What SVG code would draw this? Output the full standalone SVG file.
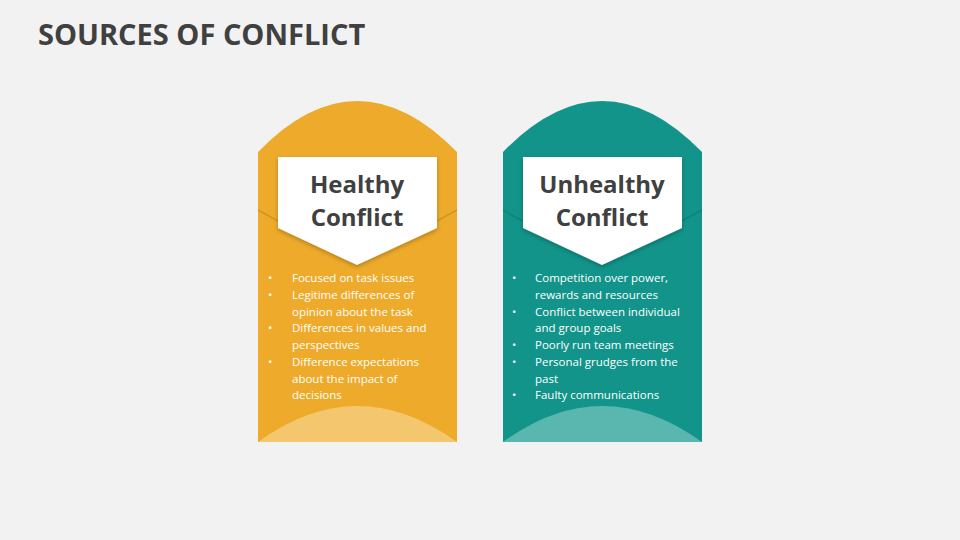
<svg xmlns="http://www.w3.org/2000/svg" width="960" height="540" viewBox="0 0 960 540">
<defs>
<style>
.title{font-family:"Open Sans","Liberation Sans",sans-serif;font-weight:bold;font-size:29px;fill:#404040}
.head{font-family:"Open Sans","Liberation Sans",sans-serif;font-weight:bold;font-size:24px;fill:#404040;text-anchor:middle}
.body{font-family:"Open Sans","Liberation Sans",sans-serif;font-size:11.5px;fill:#fff}
.flap{fill:none;stroke:#000;stroke-opacity:0.12;stroke-width:1.5}
</style>
<filter id="sh" x="-20%" y="-20%" width="140%" height="140%"><feDropShadow dx="0" dy="2" stdDeviation="2" flood-opacity="0.25"/></filter>
</defs>
<rect width="960" height="540" fill="#f2f2f2"/>
<text class="title" x="38" y="45">SOURCES OF CONFLICT</text>
<g id="healthy">
<path d="M258 152 Q357 50 457 152 L457 442 L258 442 Z" fill="#eeaa2a"/>
<path class="flap" d="M258 210 L357 265 L457 210"/>
<path d="M258 442 Q357 370 457 442 Z" fill="#f4c66e"/>
<path d="M278 157 H437 V228 L357 265 L278 228 Z" fill="#fff" filter="url(#sh)"/>
<text class="head" x="357" y="193">Healthy</text>
<text class="head" x="357" y="226">Conflict</text>
<g class="body">
<text x="268" y="282">•</text><text x="292" y="282">Focused on task issues</text>
<text x="268" y="299">•</text><text x="292" y="299">Legitime differences of</text>
<text x="292" y="316">opinion about the task</text>
<text x="268" y="332">•</text><text x="292" y="332">Differences in values and</text>
<text x="292" y="349">perspectives</text>
<text x="268" y="366">•</text><text x="292" y="366">Difference expectations</text>
<text x="292" y="383">about the impact of</text>
<text x="292" y="399">decisions</text>
</g>
</g>
<g id="unhealthy">
<path d="M503 152 Q602 50 702 152 L702 442 L503 442 Z" fill="#12948a"/>
<path class="flap" d="M503 210 L602 265 L702 210"/>
<path d="M503 442 Q602 370 702 442 Z" fill="#5ab7b0"/>
<path d="M523 157 H682 V228 L602 265 L523 228 Z" fill="#fff" filter="url(#sh)"/>
<text class="head" x="602" y="193">Unhealthy</text>
<text class="head" x="602" y="226">Conflict</text>
<g class="body">
<text x="512" y="282">•</text><text x="535" y="282">Competition over power,</text>
<text x="535" y="299">rewards and resources</text>
<text x="512" y="316">•</text><text x="535" y="316">Conflict between individual</text>
<text x="535" y="332">and group goals</text>
<text x="512" y="349">•</text><text x="535" y="349">Poorly run team meetings</text>
<text x="512" y="366">•</text><text x="535" y="366">Personal grudges from the</text>
<text x="535" y="383">past</text>
<text x="512" y="399">•</text><text x="535" y="399">Faulty communications</text>
</g>
</g>
<g id="connectors"/>
</svg>
